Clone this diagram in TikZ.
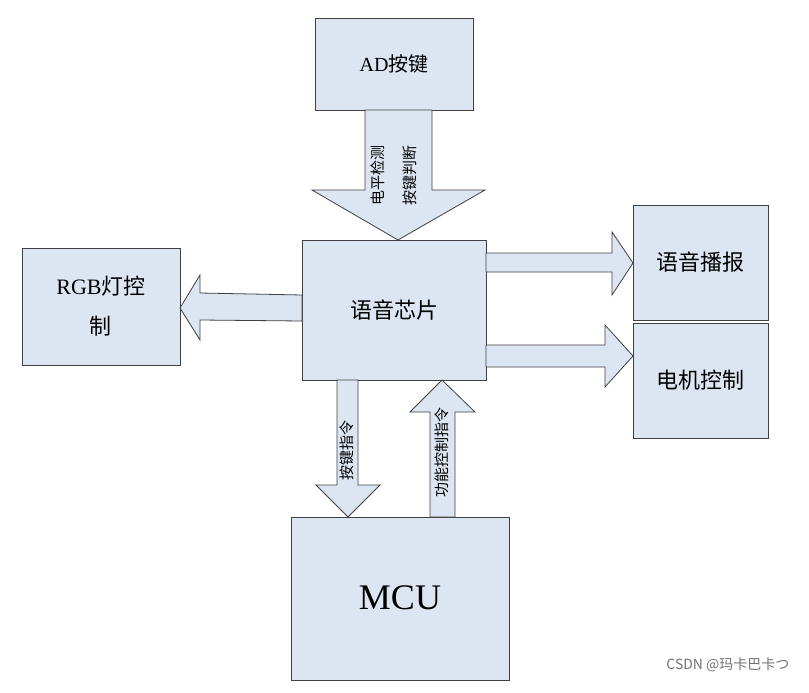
\documentclass[tikz,border=0pt]{standalone}
\usepackage{fontspec}
\setmainfont{Liberation Serif}
\newfontfamily\cjk{Noto Sans CJK SC}
\begin{document}
\begin{tikzpicture}[x=1pt,y=-1pt,
  box/.style={draw=black!75,fill=boxfill,line width=0.8pt,inner sep=0pt},
  barrow/.style={draw=black!75,fill=boxfill,line width=0.8pt,line join=miter},
  lbl/.style={font=\cjk\fontsize{22}{26}\selectfont,align=center},
  vlbl/.style={font=\cjk\fontsize{15}{32}\selectfont,rotate=90,align=center}]
\definecolor{boxfill}{HTML}{DCE6F2}
\useasboundingbox (0,0) rectangle (809,693);
\fill[white] (0,0) rectangle (809,693);
% boxes
\draw[box] (315,18) rectangle (473,110);
\node[lbl,font=\fontsize{20}{24}\selectfont] (ad) at (394,64) {AD{\cjk 按键}};
\draw[box] (302,240) rectangle (486,380);
\node[lbl] (chip) at (394,310) {语音芯片};
\draw[box] (22,248) rectangle (180,365);
\node[lbl,font=\fontsize{22}{40}\selectfont] (rgb) at (101,306) {RGB{\cjk 灯控}\\{\cjk 制}};
\draw[box] (633,205) rectangle (768,320);
\node[lbl] (bb) at (700,262) {语音播报};
\draw[box] (633,323) rectangle (768,438);
\node[lbl] (dj) at (700,380) {电机控制};
\draw[box] (291,517) rectangle (509,680);
\node[font=\fontsize{36}{40}\selectfont] (mcu) at (400,598) {MCU};
% block arrows
\draw[barrow] (365,110) -- (432,110) -- (432,190) -- (485,190) -- (398,240) -- (312,190) -- (365,190) -- cycle;
\node[vlbl] (t1) at (394,175) {电平检测\\按键判断};
\draw[barrow] (302,295) -- (200,293) -- (200,275) -- (180,308) -- (200,340) -- (200,320) -- (302,321) -- cycle;
\draw[barrow] (486,253) -- (612,253) -- (612,232) -- (633,263) -- (612,295) -- (612,272) -- (486,272) -- cycle;
\draw[barrow] (486,345) -- (605,345) -- (605,325) -- (633,356) -- (605,387) -- (605,367) -- (486,367) -- cycle;
\draw[barrow] (337,380) -- (358,380) -- (358,485) -- (380,485) -- (348,517) -- (316,485) -- (337,485) -- cycle;
\node[vlbl] (t2) at (347,450) {按键指令};
\draw[barrow] (430,517) -- (455,517) -- (455,412) -- (475,412) -- (442,380) -- (410,412) -- (430,412) -- cycle;
\node[vlbl] (t3) at (442,452) {功能控制指令};
\node[anchor=east,text=black!55,font=\cjk\fontsize{14}{16}\selectfont] (wm) at (793,665) {CSDN @玛卡巴卡つ};
\end{tikzpicture}
\end{document}
